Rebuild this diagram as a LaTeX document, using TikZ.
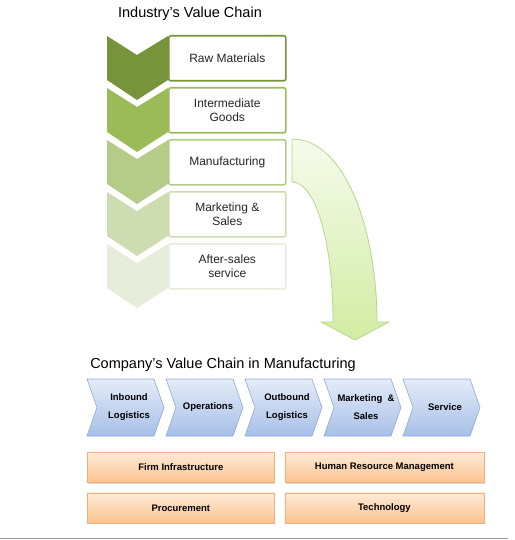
\documentclass[tikz,border=0pt]{standalone}
\usepackage{fontspec}
\setmainfont{Liberation Sans}
\usetikzlibrary{positioning, shadows}

% colours of the two chains
\definecolor{grA}{HTML}{77933C}
\definecolor{grB}{HTML}{9BBB59}
\definecolor{grC}{HTML}{B5CB88}
\definecolor{grD}{HTML}{CEDDB1}
\definecolor{grE}{HTML}{E6EDDA}
\definecolor{arTop}{HTML}{F6FBEC}
\definecolor{arBot}{HTML}{D2ECA3}
\definecolor{arLine}{HTML}{B6D78A}
\definecolor{blTop}{HTML}{E4ECF8}
\definecolor{blBot}{HTML}{A7BFE8}
\definecolor{blLine}{HTML}{8FA9D8}
\definecolor{orTop}{HTML}{FEEAD7}
\definecolor{orBot}{HTML}{FBC48F}
\definecolor{orLine}{HTML}{F4B07A}

\tikzset{
  stage/.style={draw=#1, line width=1.6pt, fill=white, rounded corners=2pt,
    minimum width=117pt, minimum height=45pt, inner sep=1pt, align=center,
    text=black!85, font=\fontsize{12}{14}\selectfont, anchor=north west},
  link/.style={draw=blLine, line width=0.6pt, top color=blTop, bottom color=blBot},
  linktext/.style={align=center, font=\bfseries\fontsize{9.5}{18}\selectfont},
  support/.style={draw=orLine, line width=0.6pt, top color=orTop, bottom color=orBot,
    minimum height=30pt, inner sep=1pt, font=\bfseries\fontsize{9.5}{11}\selectfont,
    drop shadow={shadow xshift=1pt, shadow yshift=-1.2pt, fill=black!30, opacity=0.5}},
  bigarrow/.style={draw=arLine, line width=0.8pt, top color=arTop, bottom color=arBot},
  heading/.style={font=\fontsize{14.5}{16}\selectfont}
}

\begin{document}
\begin{tikzpicture}[x=1pt, y=-1pt]
\useasboundingbox (0,0) rectangle (514,540);

% Industry chain
\node[heading] (indtitle) at (190,14) {Industry’s Value Chain};
\foreach \i/\nm/\txt/\col in {0/raw/Raw Materials/grA, 1/inter/{Intermediate\\Goods}/grB,
    2/manu/Manufacturing/grC, 3/mksale/{Marketing \&\\Sales}/grD, 4/after/{After-sales\\service}/grE} {
  \pgfmathsetmacro\yy{36+52*\i}
  \fill[\col] (107,\yy) -- (137,\yy+19) -- (168,\yy) -- (168,\yy+44) -- (137,\yy+64) -- (107,\yy+44) -- cycle;
  \node[stage=\col] (\nm) at (168,\yy-1) {\txt};
}

% big arrow down to the company chain
\draw[bigarrow] (292,139) .. controls (345,139) and (377,230) .. (377,322)
  -- (389,322) -- (355,340) -- (321,322) -- (333,322)
  .. controls (333,240) and (315,182) .. (292,182) -- cycle;

% Company chain
\node[heading] (comptitle) at (223,365) {Company’s Value Chain in Manufacturing};
\foreach \i/\nm/\txt in {0/inb/{Inbound\\Logistics}, 1/ops/Operations, 2/outb/{Outbound\\Logistics},
    3/mks/{Marketing \ \&\\Sales}, 4/srv/Service} {
  \pgfmathsetmacro\xx{87+79*\i}
  \draw[link] (\xx,379) -- (\xx+67,379) -- (\xx+77,407.5) -- (\xx+67,436) -- (\xx,436) -- (\xx+10,407.5) -- cycle;
  \node[linktext] (\nm) at (\xx+42,407.5) {\txt};
}

% support activities
\node[support, minimum width=187pt, anchor=north west] (firm) at (87,452) {Firm Infrastructure};
\node[support, minimum width=199pt, right=10pt of firm] (hrm) {Human Resource Management};
\node[support, minimum width=187pt, below=10pt of firm] (proc) {Procurement};
\node[support, minimum width=199pt, below=10pt of hrm] (tech) {Technology};

\draw[black!40, line width=1pt] (0,538) -- (508,538);
\end{tikzpicture}
\end{document}
